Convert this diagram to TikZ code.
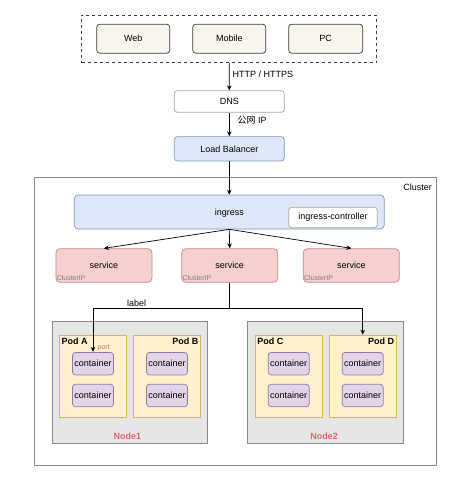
\documentclass[tikz,border=0pt]{standalone}
\usepackage{fontspec}
\setmainfont{Liberation Sans}
\newfontfamily\cjk{Noto Sans CJK SC}
\usetikzlibrary{arrows.meta}

\definecolor{clientfill}{HTML}{F9F7ED}
\definecolor{clientdraw}{HTML}{36393D}
\definecolor{bluefill}{HTML}{DFE8F8}
\definecolor{bluedraw}{HTML}{7E97C0}
\definecolor{redfill}{HTML}{F6CFCF}
\definecolor{reddraw}{HTML}{C08A8A}
\definecolor{nodefill}{HTML}{E6E6E6}
\definecolor{nodedraw}{HTML}{8A8A8A}
\definecolor{podfill}{HTML}{FFF2CC}
\definecolor{poddraw}{HTML}{D6B656}
\definecolor{ctrfill}{HTML}{E1D5E7}
\definecolor{ctrdraw}{HTML}{9673A6}
\definecolor{labelred}{HTML}{E06666}

\tikzstyle{box} = [rectangle,inner sep=0pt,font=\fontsize{9}{10}\selectfont,line width=.7pt]
\tikzstyle{client} = [box,rounded corners=3pt,draw=clientdraw,fill=clientfill,minimum width=73pt,minimum height=29pt]
\tikzstyle{plain} = [box,rounded corners=3pt,draw=gray!70,fill=white,minimum width=110pt,minimum height=21.6pt]
\tikzstyle{blue} = [box,rounded corners=4pt,draw=bluedraw,fill=bluefill]
\tikzstyle{svc} = [box,rounded corners=4pt,draw=reddraw,fill=redfill,minimum width=96pt,minimum height=33.6pt]
\tikzstyle{host} = [box,draw=nodedraw,fill=nodefill,minimum height=122.4pt]
\tikzstyle{pod} = [box,draw=poddraw,fill=podfill,minimum width=67.4pt,minimum height=82.3pt]
\tikzstyle{ctr} = [box,rounded corners=3pt,draw=ctrdraw,fill=ctrfill,minimum width=41pt,minimum height=22.5pt]
\tikzstyle{tag} = [inner sep=0pt,font=\fontsize{9}{10}\selectfont]
\tikzstyle{small} = [inner sep=0pt,font=\fontsize{7}{8}\selectfont]
\tikzstyle{edge} = [-{Stealth[length=5pt,width=4.5pt]},line width=.7pt]

\begin{document}
\begin{tikzpicture}[x=1pt,y=-1pt]
\useasboundingbox (0,0) rectangle (474,481);

% clients
\node[box,draw=clientdraw,dashed,minimum width=295pt,minimum height=47.7pt] (clients) at (229.2,38.8) {};
\node[client] (web) at (133.3,38.7) {Web};
\node[client] (mobile) at (229.3,38.7) {Mobile};
\node[client,minimum width=74pt] (pc) at (325.7,38.7) {PC};

\node[plain] (dns) at (229.3,101.5) {DNS};
\node[blue,rounded corners=3pt,minimum width=110pt,minimum height=24.3pt] (lb) at (229.3,148.8) {Load Balancer};

% cluster
\node[box,draw=nodedraw,fill=white,minimum width=402.5pt,minimum height=288.4pt] (cluster) at (235.2,321.5) {};
\node[tag,anchor=east] (clustertag) at (432,187.3) {Cluster};

\node[blue,minimum width=310pt,minimum height=34pt] (ingress) at (229.3,212) {};
\node[tag] (ingresstag) at (229.3,213.3) {ingress};
\node[plain,minimum width=88.6pt,minimum height=20.4pt] (ctl) at (333,217.5) {ingress-controller};

\node[svc] (svc1) at (103.9,265.5) {service};
\node[svc] (svc2) at (229.7,265.5) {service};
\node[svc] (svc3) at (351.3,265.5) {service};
\foreach \s in {1,2,3} {
    \node[small,anchor=south west,text=gray] (cip\s) at ([shift={(1,-1.5)}]svc\s.south west) {ClusterIP};
}

\node[host,minimum width=155pt] (node1) at (129.8,382.2) {};
\node[host,minimum width=156pt] (node2) at (325.7,382.2) {};

\node[pod] (poda) at (93,376.2) {};
\node[pod] (podb) at (167,376.2) {};
\node[pod] (podc) at (288.7,376.2) {};
\node[pod] (podd) at (362.7,376.2) {};

\foreach \p in {a,b,c,d} {
    \node[ctr] (\p1) at ([yshift=12.5pt]pod\p.center) {container};
    \node[ctr] (\p2) at ([yshift=-19.3pt]pod\p.center) {container};
}

\node[tag,anchor=north west,font=\fontsize{9}{10}\selectfont\bfseries] (podatag) at ([shift={(2.5,3.5)}]poda.north west) {Pod A};
\node[tag,anchor=north east,font=\fontsize{9}{10}\selectfont\bfseries] (podbtag) at ([shift={(-2.5,3.5)}]podb.north east) {Pod B};
\node[tag,anchor=north west,font=\fontsize{9}{10}\selectfont\bfseries] (podctag) at ([shift={(2.5,3.5)}]podc.north west) {Pod C};
\node[tag,anchor=north east,font=\fontsize{9}{10}\selectfont\bfseries] (poddtag) at ([shift={(-2.5,3.5)}]podd.north east) {Pod D};

\node[tag,text=labelred,font=\fontsize{9}{10}\selectfont\bfseries] (node1tag) at (127.3,436) {Node1};
\node[tag,text=labelred,font=\fontsize{9}{10}\selectfont\bfseries] (node2tag) at (324,436) {Node2};

\node[small,anchor=west,text=labelred] (porttag) at (97.5,347.5) {port};

% edges
\draw[edge] (clients) -- (dns) node[tag,anchor=west,pos=.42,xshift=3pt] (proto) {HTTP / HTTPS};
\draw[edge] (dns) -- (lb) node[tag,anchor=west,pos=.3,xshift=8pt] (pubip) {{\cjk 公网} IP};
\draw[edge] (lb) -- (ingress);
\foreach \s in {1,2,3} {
    \draw[edge] (ingress.south) -- (svc\s.north);
}

\coordinate (split) at (229.7,308.3);
\coordinate (porta) at (93,351.8);
\draw[line width=.7pt] (svc2) -- (split);
\draw[edge] (split) -| (porta);
\draw[edge] (split) -| (podd.north);
\node[tag] (labeltag) at (136.7,303.5) {label};

\end{tikzpicture}
\end{document}
